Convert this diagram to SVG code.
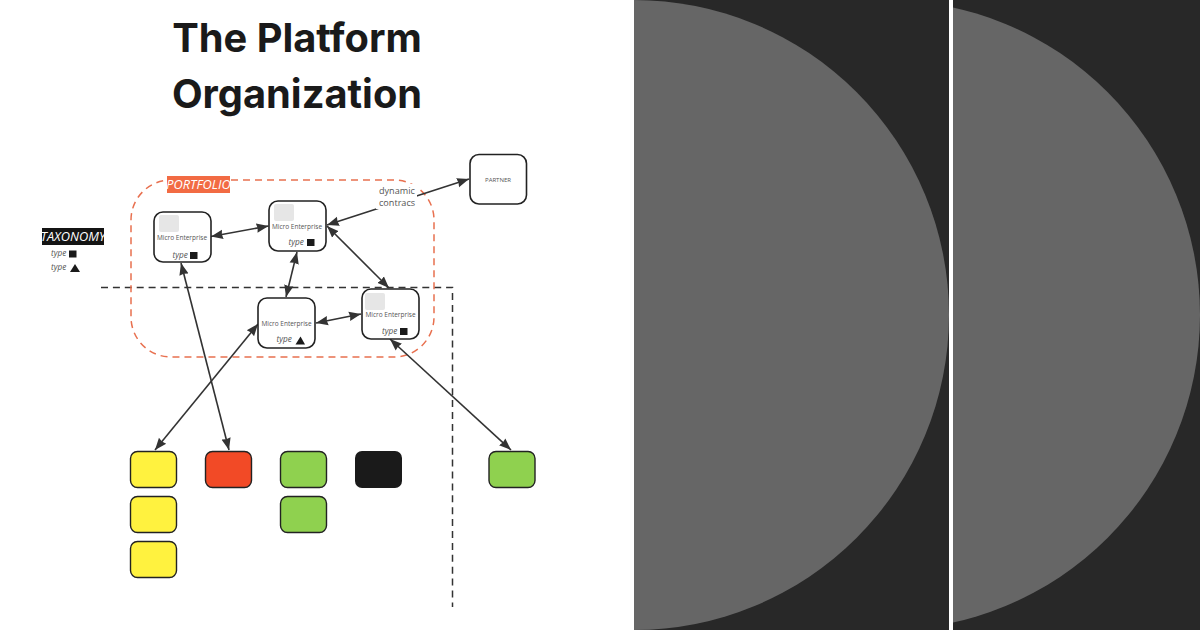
<svg xmlns="http://www.w3.org/2000/svg" width="1200" height="630" viewBox="0 0 1200 630">
<style>
.title{font:700 39.800px Inter,"Liberation Sans",sans-serif;fill:#1a1a1a;text-anchor:middle}
.me{fill:#fff;stroke:#222;stroke-width:1.6}
.ph{fill:#e6e6e6}
.lbl{font:6.500px "Open Sans","Noto Sans",sans-serif;fill:#555;text-anchor:middle}
.ty{font:italic 8.200px "Open Sans","Noto Sans",sans-serif;fill:#555}
.tag{font:italic 12.800px "Open Sans","Noto Sans",sans-serif;fill:#fff;text-anchor:middle}
.dyn{font:9.100px "Open Sans","Noto Sans",sans-serif;fill:#555}
.box{stroke:#222;stroke-width:1.4}
.k{fill:#1a1a1a}
.c{fill:none;stroke:#333;stroke-width:1.600;marker-start:url(#ah);marker-end:url(#ah)}
</style>
<defs>
<marker id="ah" markerUnits="userSpaceOnUse" markerWidth="13" markerHeight="11" refX="12" refY="5.500" orient="auto-start-reverse"><path d="M0 0.800L12 5.500L0 10.200L1 5.500Z" fill="#333"/></marker>
<clipPath id="rp"><rect x="953" y="0" width="247" height="630"/></clipPath>
</defs>
<rect width="1200" height="630" fill="#fff"/>
<g id="panels">
<rect x="634" y="0" width="315" height="630" fill="#282828"/>
<rect x="953" y="0" width="247" height="630" fill="#282828"/>
<path d="M634 0A315 315 0 0 1 634 630Z" fill="#666"/>
<circle cx="885" cy="315" r="315" fill="#666" clip-path="url(#rp)"/>
</g>
<g id="title">
<text class="title" x="297" y="52">The Platform</text>
<text class="title" x="297" y="108">Organization</text>
</g>
<g id="boundary">
<path d="M101 287.500H452.500V607" fill="none" stroke="#333" stroke-width="1.500" stroke-dasharray="7 4.900"/>
</g>
<g id="portfolio">
<rect x="131" y="180" width="303" height="177" rx="40" fill="none" stroke="#e8704f" stroke-width="1.500" stroke-dasharray="7 5"/>
<rect x="167" y="176" width="63" height="17" fill="#f26b43"/>
<text class="tag" x="198.500" y="189">PORTFOLIO</text>
</g>
<g id="taxonomy">
<rect x="42" y="228" width="62" height="17" fill="#141414"/>
<text class="tag" x="73" y="241">TAXONOMY</text>
<text class="ty" x="51" y="256">type</text>
<rect class="k" x="69" y="250.500" width="7.500" height="7"/>
<text class="ty" x="51" y="270">type</text>
<path class="k" d="M70 272L75 264L80 272Z"/>
</g>
<g id="connectors">
<path class="c" d="M211 236.500L268.500 226"/>
<path class="c" d="M181 263L229 450"/>
<path class="c" d="M258 324L155 450"/>
<path class="c" d="M297 252L286 297"/>
<path class="c" d="M327 226L389 288"/>
<path class="c" d="M316 323L361 314"/>
<path class="c" d="M390 339L511 450"/>
<path class="c" d="M327 225L469 179"/>
</g>
<g id="dynamic-label">
<rect x="376" y="184" width="41" height="25" fill="#fff"/>
<text class="dyn" x="379" y="194">dynamic</text>
<text class="dyn" x="379" y="206">contracs</text>
</g>
<g id="me1">
<rect class="me" x="154" y="212" width="57" height="50" rx="9"/>
<rect class="ph" x="159" y="215" width="20" height="17" rx="2"/>
<text class="lbl" x="182" y="239.500">Micro Enterprise</text>
<text class="ty" x="172.500" y="258">type</text>
<rect class="k" x="190" y="252" width="7.500" height="7"/>
</g>
<g id="me2">
<rect class="me" x="269" y="201" width="57" height="50" rx="9"/>
<rect class="ph" x="274" y="204" width="20" height="17" rx="2"/>
<text class="lbl" x="297" y="228.500">Micro Enterprise</text>
<text class="ty" x="288.500" y="245">type</text>
<rect class="k" x="307" y="239" width="7.500" height="7"/>
</g>
<g id="me3">
<rect class="me" x="258" y="298" width="57" height="50" rx="9"/>
<text class="lbl" x="286.500" y="325.500">Micro Enterprise</text>
<text class="ty" x="276.500" y="342">type</text>
<path class="k" d="M295.500 344.500L300.500 336.500L305 344.500Z"/>
</g>
<g id="me4">
<rect class="me" x="362" y="289" width="57" height="50" rx="9"/>
<rect class="ph" x="365" y="293" width="20" height="17" rx="2"/>
<text class="lbl" x="390.500" y="316.500">Micro Enterprise</text>
<text class="ty" x="382" y="334">type</text>
<rect class="k" x="400" y="328" width="7.500" height="7"/>
</g>
<g id="partner">
<rect class="me" x="470" y="154.500" width="56.500" height="49.500" rx="9"/>
<text class="lbl" style="font-size:6px" x="498" y="181.500">PARTNER</text>
</g>
<g id="y1"><rect class="box" fill="#fff23f" x="130.500" y="451.500" width="46" height="36" rx="7"/></g>
<g id="y2"><rect class="box" fill="#fff23f" x="130.500" y="496.500" width="46" height="36" rx="7"/></g>
<g id="y3"><rect class="box" fill="#fff23f" x="130.500" y="541.500" width="46" height="36" rx="7"/></g>
<g id="r1"><rect class="box" fill="#f24a26" x="205.500" y="451.500" width="46" height="36" rx="7"/></g>
<g id="g1"><rect class="box" fill="#8fd14f" x="280.500" y="451.500" width="46" height="36" rx="7"/></g>
<g id="g2"><rect class="box" fill="#8fd14f" x="280.500" y="496.500" width="46" height="36" rx="7"/></g>
<g id="b1"><rect fill="#1a1a1a" x="355" y="451" width="47" height="37" rx="7"/></g>
<g id="g3"><rect class="box" fill="#8fd14f" x="489" y="451.500" width="46" height="36" rx="7"/></g>
</svg>
